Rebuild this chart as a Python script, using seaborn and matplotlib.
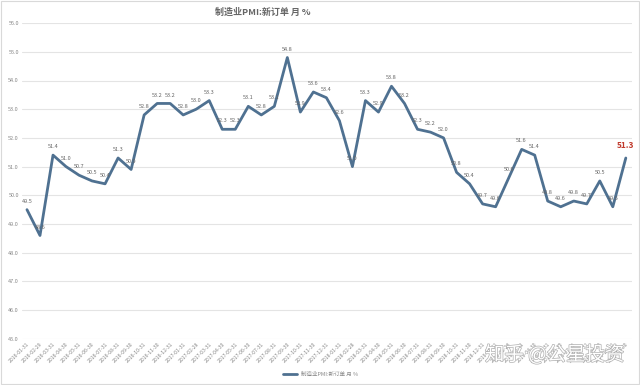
import matplotlib
matplotlib.use('Agg')
import matplotlib.pyplot as plt
import matplotlib.patheffects as pe
import seaborn as sns
import pandas as pd

# 制造业PMI:新订单 (月度)
dates = ['2016-01-31', '2016-02-29', '2016-03-31', '2016-04-30', '2016-05-31', '2016-06-30',
         '2016-07-31', '2016-08-31', '2016-09-30', '2016-10-31', '2016-11-30', '2016-12-31',
         '2017-01-31', '2017-02-28', '2017-03-31', '2017-04-30', '2017-05-31', '2017-06-30',
         '2017-07-31', '2017-08-31', '2017-09-30', '2017-10-31', '2017-11-30', '2017-12-31',
         '2018-01-31', '2018-02-28', '2018-03-31', '2018-04-30', '2018-05-31', '2018-06-30',
         '2018-07-31', '2018-08-31', '2018-09-30', '2018-10-31', '2018-11-30', '2018-12-31',
         '2019-01-31', '2019-02-28', '2019-03-31', '2019-04-30', '2019-05-31', '2019-06-30',
         '2019-07-31', '2019-08-31', '2019-09-30', '2019-10-31', '2019-11-30']
values = [49.5, 48.6, 51.4, 51.0, 50.7, 50.5, 50.4, 51.3, 50.9, 52.8, 53.2, 53.2,
          52.8, 53.0, 53.3, 52.3, 52.3, 53.1, 52.8, 53.1, 54.8, 52.9, 53.6, 53.4,
          52.6, 51.0, 53.3, 52.9, 53.8, 53.2, 52.3, 52.2, 52.0, 50.8, 50.4, 49.7,
          49.6, 50.6, 51.6, 51.4, 49.8, 49.6, 49.8, 49.7, 50.5, 49.6, 51.3]
yticks = [45.0, 46.0, 47.0, 48.0, 49.0, 50.0, 51.0, 52.0, 53.0, 54.0, 55.0, 56.0]
title = '制造业PMI:新订单 月 %'

sns.set_theme(style='white')
plt.rcParams['font.family'] = ['Noto Sans CJK SC', 'DejaVu Sans']

df = pd.DataFrame({'idx': range(len(values)), 'val': values})

fig = plt.figure(figsize=(6.4, 3.85), dpi=100)
ax = fig.add_axes([0.034, 0.12, 0.953, 0.82])
line_c = '#4f7191'
sns.lineplot(data=df, x='idx', y='val', ax=ax, color=line_c, linewidth=2.0, label=title)

ax.set_ylim(45, 56)
ax.set_xlim(-0.4, len(values) - 1 + 0.45)
ax.set_yticks(yticks)
ax.set_yticklabels(['%.1f' % v for v in yticks], fontsize=4, color='#888888')
ax.yaxis.grid(True, color='#e4e4e4', linewidth=0.8)
ax.set_axisbelow(True)
ax.set_xticks(range(len(dates)))
ax.set_xticklabels(dates, rotation=45, ha='right', rotation_mode='anchor',
                   fontsize=3.7, color='#888888')
ax.tick_params(axis='both', length=0, pad=2)
ax.set_xlabel('')
ax.set_ylabel('')
for s in ax.spines.values():
    s.set_visible(False)

for i, v in enumerate(values):
    if i == len(values) - 1:
        ax.annotate('%.1f' % v, (i, v), xytext=(0, 7), textcoords='offset points',
                    ha='center', fontsize=6, color='#c0392b', fontweight='bold')
    else:
        ax.annotate('%.1f' % v, (i, v), xytext=(0, 5), textcoords='offset points',
                    ha='center', fontsize=4, color='#666666')

fig.text(0.41, 0.968, title, fontsize=6.5, color='#666666', fontweight='bold',
         ha='center', va='center')

leg = ax.legend(loc='upper center', bbox_to_anchor=(0.49, -0.09), frameon=False,
                fontsize=4, handlelength=2.5)
for t in leg.get_texts():
    t.set_color('#888888')

# 水印
fig.text(0.867, 0.078, '知乎 @公星投资', fontsize=14, color='white',
         ha='center', va='center',
         path_effects=[pe.Stroke(linewidth=1.0, foreground='#b0b0b0'), pe.Normal()])

fig.patches.append(plt.Rectangle((0.002, 0.003), 0.996, 0.994, transform=fig.transFigure,
                                 fill=False, edgecolor='#d9d9d9', linewidth=0.8))

fig.savefig('out.png', dpi=100)
